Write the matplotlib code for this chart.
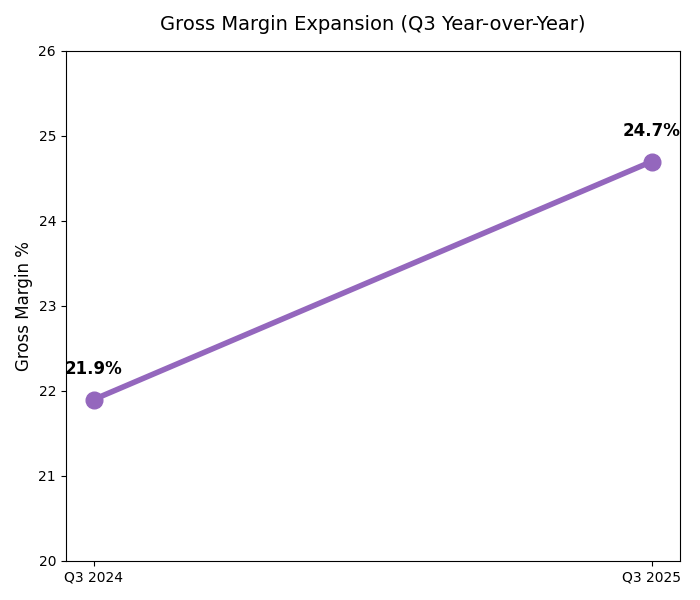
import matplotlib
matplotlib.use("Agg")
import matplotlib.pyplot as plt

# Data
quarters = ["Q3 2024", "Q3 2025"]
gross_margin = [21.9, 24.7]

fig, ax = plt.subplots(figsize=(7, 6), dpi=100)

ax.plot(quarters, gross_margin, "o-", color="#9467bd", linewidth=4, markersize=12)

# Value labels above the points
for q, v in zip(quarters, gross_margin):
    ax.text(q, v + 0.36, f"{v}%", ha="center", va="center", fontsize=12, fontweight="bold")

ax.set_title("Gross Margin Expansion (Q3 Year-over-Year)", fontsize=14, pad=15)
ax.set_ylabel("Gross Margin %", fontsize=12)
ax.set_ylim(20, 26)

fig.subplots_adjust(left=0.094, right=0.971, top=0.915, bottom=0.065)
fig.savefig("out.png", dpi=100)
